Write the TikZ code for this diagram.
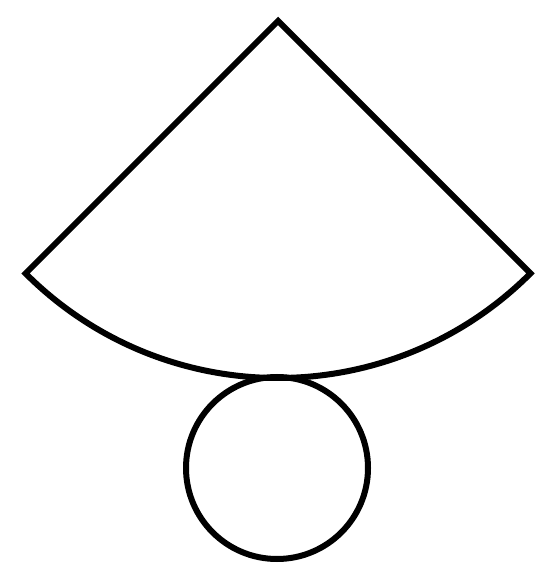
\documentclass[tikz,border=0pt]{standalone}
\begin{document}
\begin{tikzpicture}[x=1pt,y=1pt,
  shape line/.style={draw=black,line width=6pt,line join=miter}]
\useasboundingbox (0,0) rectangle (551,572);
% cone lateral surface (sector)
\draw[shape line] (278,551) -- ++(-135:357) arc[start angle=-135,end angle=-45,radius=357] -- cycle;
% base circle
\draw[shape line] (277,104) circle[radius=91];
\end{tikzpicture}
\end{document}
